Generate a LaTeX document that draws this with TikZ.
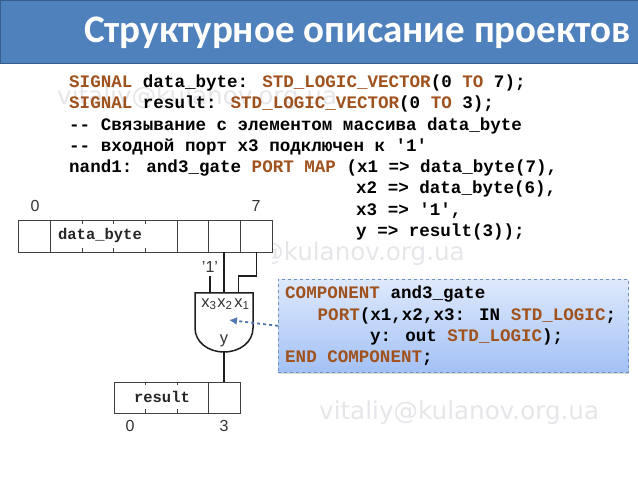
\documentclass[tikz,border=0pt]{standalone}
\usepackage{fontspec}
\setmainfont{Liberation Sans}
\newfontfamily\codefont{Liberation Mono}
\newfontfamily\titlefont{Carlito}
\newfontfamily\markfont{DejaVu Sans}
\usetikzlibrary{arrows.meta,shadows}
\definecolor{BarClr}{RGB}{79,129,189}
\definecolor{BarEdgeClr}{RGB}{56,93,138}
\definecolor{KeyClr}{RGB}{160,82,30}
\definecolor{MarkClr}{RGB}{230,230,234}
\definecolor{BoxTopClr}{RGB}{222,233,252}
\definecolor{BoxBotClr}{RGB}{163,193,245}
\definecolor{BoxEdgeClr}{RGB}{110,145,190}
\definecolor{ArrowClr}{RGB}{79,120,175}
\definecolor{WireClr}{RGB}{30,30,30}
\newcommand{\kw}[1]{\textcolor{KeyClr}{#1}}
\tikzset{
  codeline/.style={anchor=base west,inner sep=0pt,font=\codefont\bfseries\fontsize{17.55}{20}\selectfont},
  markline/.style={anchor=base west,inner sep=0pt,text=MarkClr,font=\markfont\fontsize{24.6}{27}\selectfont},
  regbox/.style={draw=black!75,line width=.8pt,inner sep=0pt,minimum height=31.5pt},
  regtick/.style={draw=black!75,line width=.8pt},
  wire/.style={draw=WireClr,line width=1.5pt},
  pinlabel/.style={inner sep=0pt,font=\fontsize{16}{18}\selectfont,text=black!80},
  gatelabel/.style={inner sep=0pt,font=\fontsize{16.5}{19}\selectfont,text=black!80},
  reglabel/.style={inner sep=0pt,font=\codefont\bfseries\fontsize{15.5}{18}\selectfont,text=black!85}
}
\begin{document}
\begin{tikzpicture}[x=1pt,y=-1pt]
\useasboundingbox (0,0) rectangle (638,478);

% watermarks
\node[markline] (markA) at (57,105) {vitaliy@kulanov.org.ua};
\begin{scope}
\clip (272,235) rectangle (638,275);
\node[markline] (markB) at (259,261) {@kulanov.org.ua};
\end{scope}
\node[markline] (markC) at (319,420) {vitaliy@kulanov.org.ua};

% title bar
\node[draw=BarEdgeClr,fill=BarClr,minimum width=638pt,minimum height=63pt,inner sep=0pt,anchor=north west] (bar) at (0,0) {};
\node[inner sep=0pt,text=white,font=\titlefont\bfseries\fontsize{39}{42}\selectfont] (title) at (357.5,33) {Структурное описание проектов};

% code
\node[codeline] (codeA) at (69,88) {\kw{SIGNAL} data\_byte: \kw{STD\_LOGIC\_VECTOR}(0 \kw{TO} 7);};
\node[codeline] (codeB) at (69,109) {\kw{SIGNAL} result: \kw{STD\_LOGIC\_VECTOR}(0 \kw{TO} 3);};
\node[codeline] (codeC) at (69,130.5) {-- Связывание с элементом массива data\_byte};
\node[codeline] (codeD) at (69,151.5) {-- входной порт x3 подключен к '1'};
\node[codeline] (codeE) at (69,172.5) {nand1: and3\_gate \kw{PORT MAP} (x1 => data\_byte(7),};
\node[codeline] (codeF) at (356,194) {x2 => data\_byte(6),};
\node[codeline] (codeG) at (356,215.5) {x3 => '1',};
\node[codeline] (codeH) at (356,236.5) {y => result(3));};

% data_byte register
\node[regbox,fill=white,minimum width=254pt,anchor=north west] (dataByte) at (18,220.5) {};
\foreach \xx in {50,177,208,240}
  \draw[regtick] (\xx,220.5) -- (\xx,252);
\foreach \xx in {82,113,145} {
  \draw[regtick] (\xx,220.5) -- (\xx,224);
  \draw[regtick] (\xx,248.5) -- (\xx,252);
}
\node[reglabel] (dataName) at (100,235) {data\_byte};
\node[pinlabel] (dataFirst) at (35,206) {0};
\node[pinlabel] (dataLast) at (256,206) {7};

% gate
\coordinate (gateTL) at (195,293);
\coordinate (gateTR) at (253,293);
\draw[wire,fill=white] (gateTL) -- (gateTR) -- (253,328) .. controls (253,342) and (240,352) .. (224,352) .. controls (208,352) and (195,342) .. (195,328) -- cycle;
\coordinate (gateOut) at (224,352);
\coordinate (pinA) at (238.5,293);
\coordinate (pinB) at (224,293);
\coordinate (pinC) at (210,293);
\coordinate (pinCtop) at (210,276);
\coordinate (dataA) at (256.5,252);
\coordinate (dataB) at (224,252);
\coordinate (resIn) at (224,382);

\draw[wire] (dataA) -- (256.5,276) -- (238.5,276) -- (pinA);
\draw[wire] (dataB) -- (pinB);
\draw[wire] (pinCtop) -- (pinC);
\draw[wire] (gateOut) -- (resIn);

\node[pinlabel] (constOne) at (210,267) {'1'};
\node[gatelabel] (labelC) at (209,304) {x\textsubscript{3}};
\node[gatelabel] (labelB) at (225,304) {x\textsubscript{2}};
\node[gatelabel] (labelA) at (242,304) {x\textsubscript{1}};
\node[gatelabel] (labelY) at (224,341) {y};

% result register
\node[regbox,minimum width=126.5pt,anchor=north west] (result) at (113.5,382) {};
\draw[regtick] (208,382) -- (208,413);
\foreach \xx in {145,177} {
  \draw[regtick] (\xx,382) -- (\xx,385.5);
  \draw[regtick] (\xx,409.5) -- (\xx,413);
}
\node[reglabel] (resName) at (162,397) {result};
\node[pinlabel] (resFirst) at (130,426) {0};
\node[pinlabel] (resLast) at (224,426) {3};

% component box
\node[draw=BoxEdgeClr,dashed,line width=.7pt,top color=BoxTopClr,bottom color=BoxBotClr,drop shadow={opacity=.3,shadow xshift=1pt,shadow yshift=-1.5pt},minimum width=350pt,minimum height=93pt,inner sep=0pt,anchor=north west] (compBox) at (278,279) {};
\coordinate (gateMid) at (229,320);
\draw[-{Latex[length=8pt,width=8pt]},ArrowClr,dashed,line width=1.8pt] (compBox.west) -- (gateMid);
\node[codeline] (compA) at (285,299) {\kw{COMPONENT} and3\_gate};
\node[codeline] (compB) at (317.5,320.5) {\kw{PORT}(x1,x2,x3: IN \kw{STD\_LOGIC};};
\node[codeline] (compC) at (370,341.5) {y: out \kw{STD\_LOGIC});};
\node[codeline] (compD) at (285,362.5) {\kw{END COMPONENT};};
\end{tikzpicture}
\end{document}
